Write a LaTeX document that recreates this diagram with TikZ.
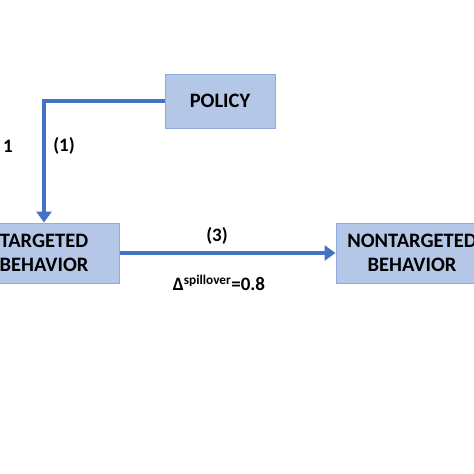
\documentclass[tikz,border=0pt]{standalone}
\usepackage{fontspec}
\setmainfont{Carlito}
\usetikzlibrary{arrows.meta}
\definecolor{boxfill}{RGB}{180,199,231}
\definecolor{boxline}{RGB}{143,170,220}
\definecolor{arrowblue}{RGB}{68,114,196}
\tikzset{
  boxnode/.style={draw=boxline, fill=boxfill, line width=1pt, align=center,
    font=\fontsize{20.5}{24}\selectfont\bfseries, inner sep=0pt},
  flow/.style={arrowblue, line width=4pt, -{Triangle[length=11pt,width=15pt]}},
  lbl/.style={font=\fontsize{19}{22}\selectfont\bfseries}
}
\begin{document}
\begin{tikzpicture}[x=1pt,y=-1pt]
\clip (0,0) rectangle (474,474);
\fill[white] (0,0) rectangle (474,474);
% boxes
\node[boxnode, minimum width=110pt, minimum height=54pt] (policy) at (220,101) {POLICY};
\node[boxnode, minimum width=150pt, minimum height=60pt] (targeted) at (44,253) {TARGETED\\BEHAVIOR};
\node[boxnode, minimum width=152pt, minimum height=60pt] (nontargeted) at (412,253) {NONTARGETED\\BEHAVIOR};
% arrows
\draw[flow] (policy.west) -| (targeted.north);
\draw[flow] (targeted.east) -- (nontargeted.west);
% labels
\node[lbl] (one) at (8,146) {1};
\node[lbl] (lone) at (64,146) {(1)};
\node[lbl] (lthree) at (217,236) {(3)};
\node[lbl] (spill) at (219,283) {Δ\textsuperscript{spillover}=0.8};
\end{tikzpicture}
\end{document}
